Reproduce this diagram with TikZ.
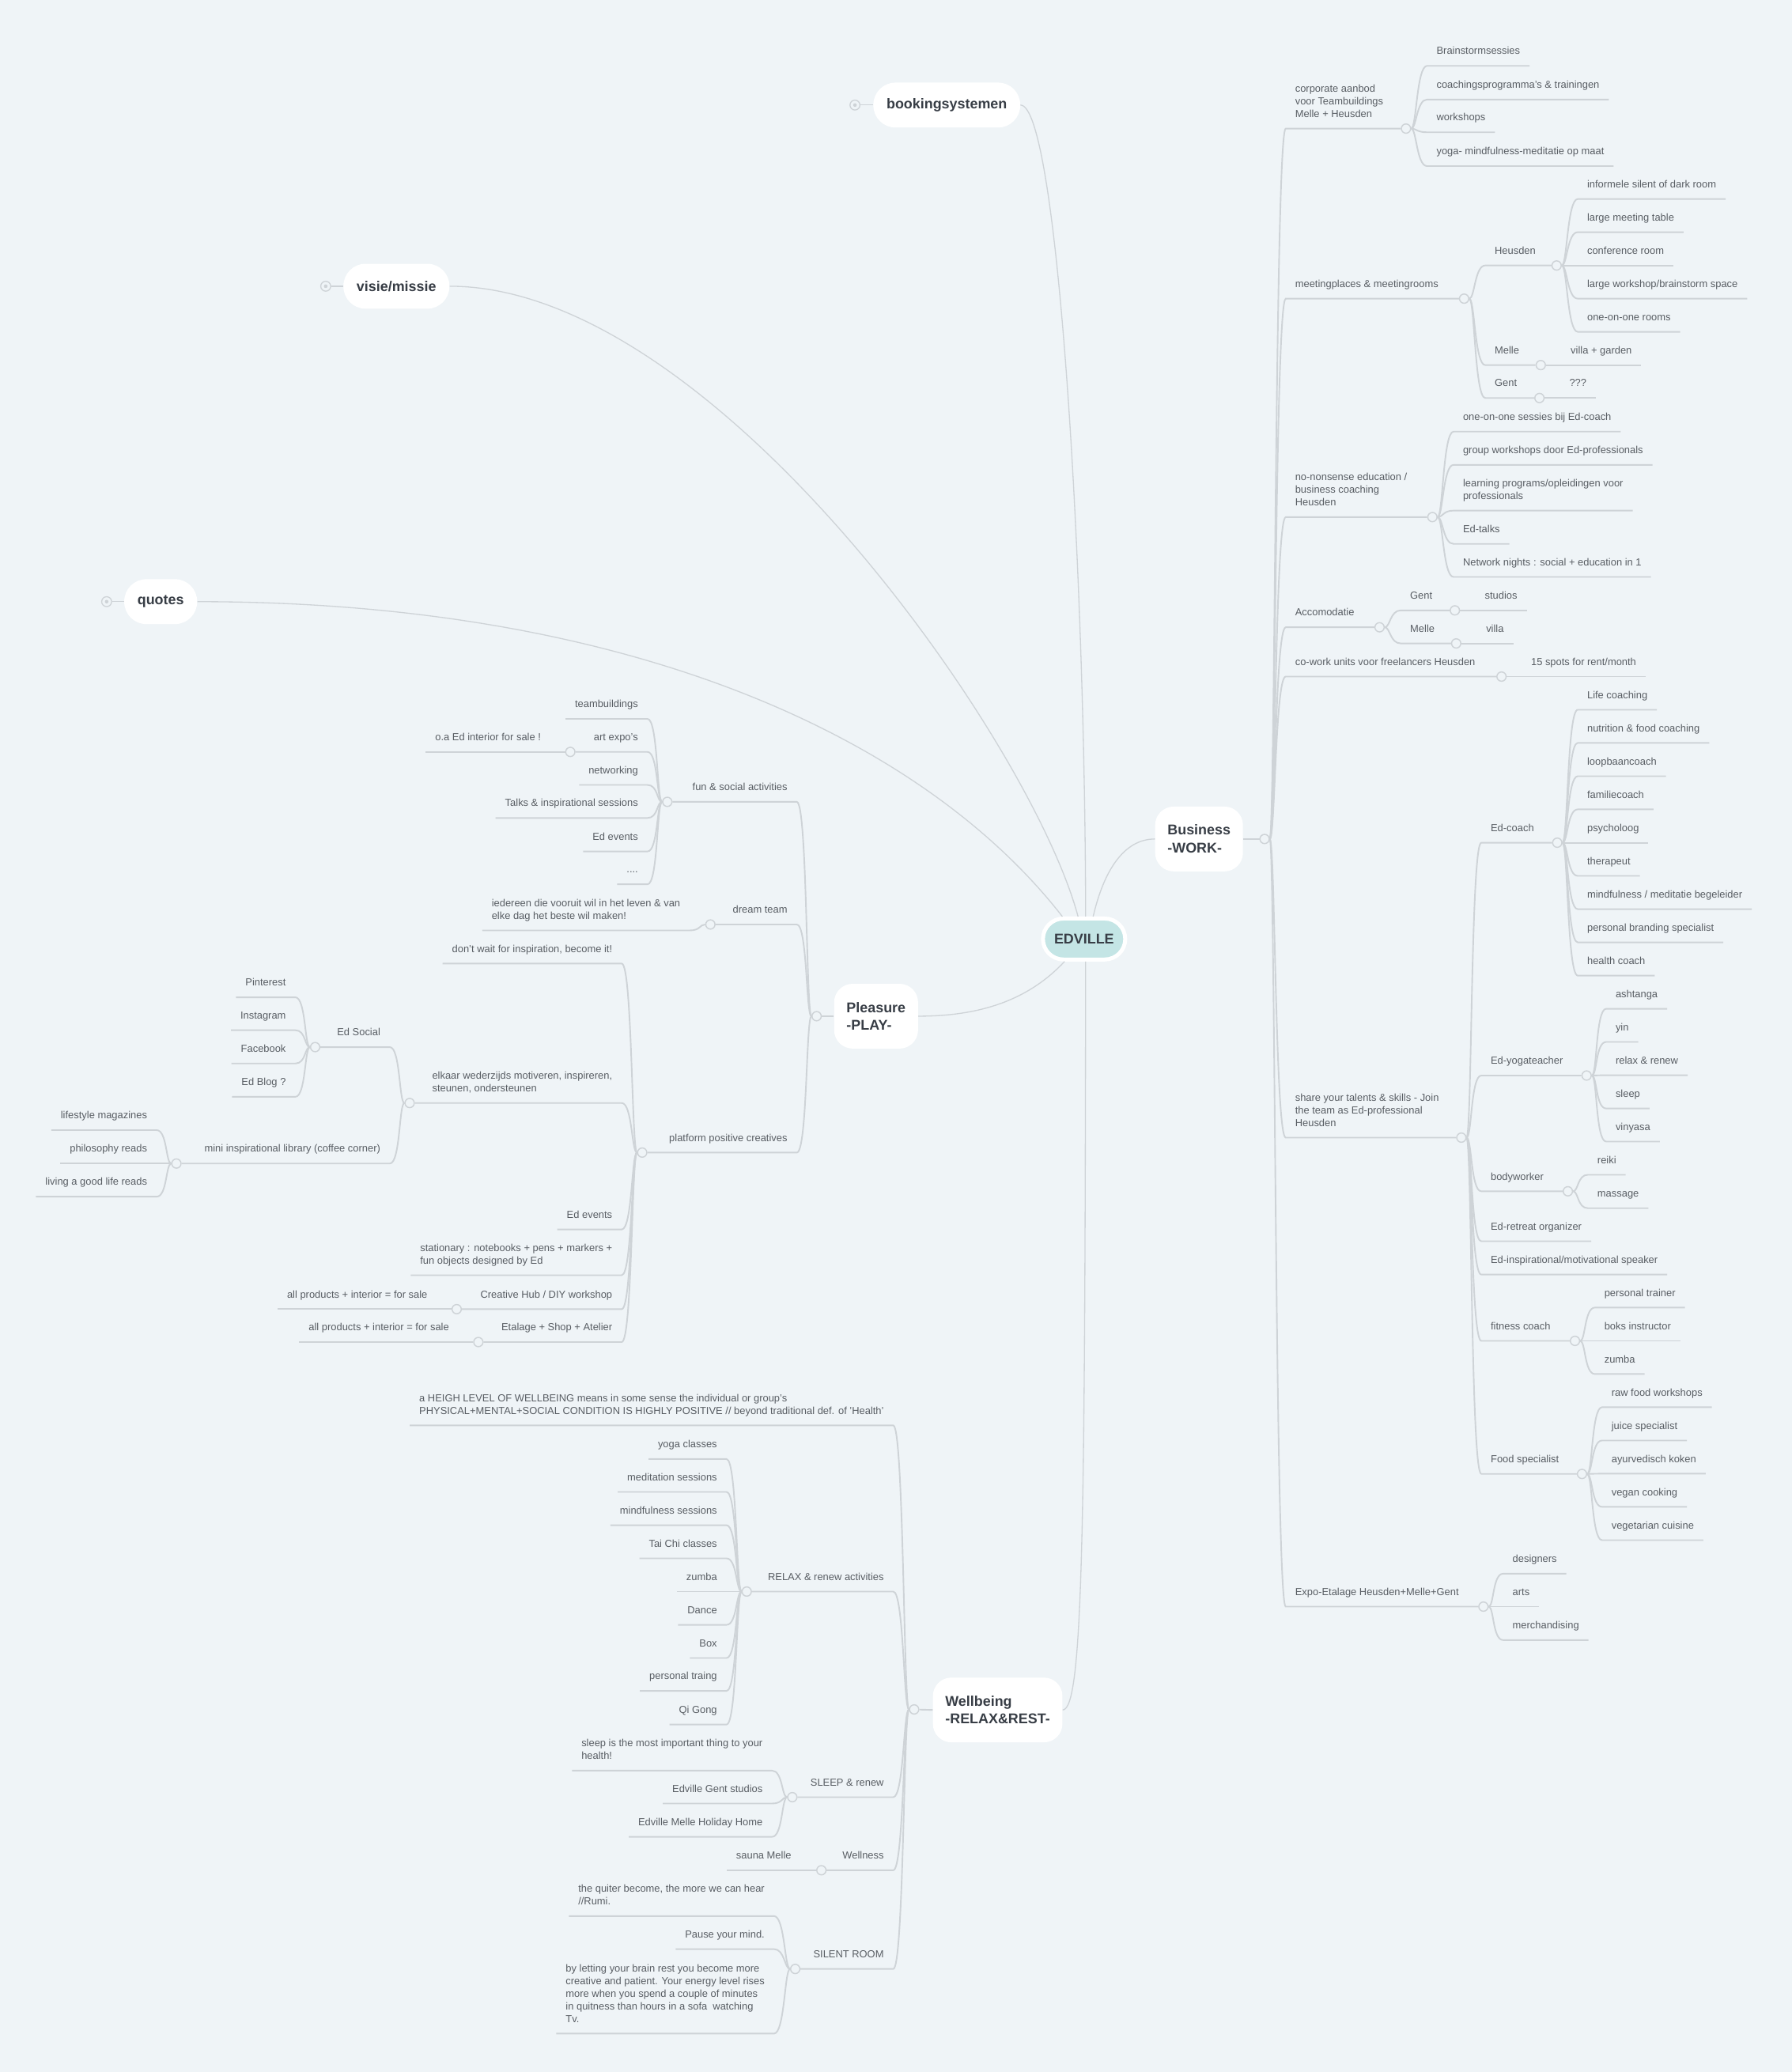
\documentclass[tikz,border=0pt]{standalone}
\usepackage{fontspec}
\setmainfont{Liberation Sans}
\definecolor{bg}{RGB}{239,244,247}
\definecolor{edge}{RGB}{206,211,215}
\definecolor{leaftxt}{RGB}{88,93,99}
\definecolor{headtxt}{RGB}{55,61,69}
\definecolor{rootfill}{RGB}{196,229,229}
\begin{document}
\begin{tikzpicture}[x=0.4mm,y=-0.4mm,
  link/.style={draw=edge,line width=1.3pt},
  mainlink/.style={draw=edge,line width=0.9pt},
  rleaf/.style={anchor=south west,inner xsep=2.8mm,inner ysep=0pt,text depth=3.36mm,align=left,text=leaftxt,font=\fontsize{8.8}{10.9}\selectfont},
  lleaf/.style={rleaf,anchor=south east},
  jdot/.style={circle,draw=edge,line width=1pt,fill=bg,minimum size=2.8mm,inner sep=0pt},
  topic/.style={fill=white,rounded corners=6.7mm,minimum height=13.6mm,inner xsep=4mm,text=headtxt,font=\fontsize{12.2}{15.5}\selectfont\bfseries},
  branchbox/.style={fill=white,rounded corners=5.6mm,minimum height=19.6mm,inner xsep=3.76mm,align=left,text=headtxt,font=\fontsize{12.2}{15.5}\selectfont\bfseries},
  rootbox/.style={fill=rootfill,draw=white,line width=1.2mm,rounded corners=6.2mm,minimum height=12.4mm,inner xsep=3.4mm,text=headtxt,font=\fontsize{12.2}{15.5}\selectfont\bfseries},
  topicmark/.style={circle,draw=edge,line width=0.9pt,fill=bg,minimum size=3mm,inner sep=0pt,path picture={\fill[edge] (path picture bounding box.center) circle (0.55mm);}}]
\path[use as bounding box,fill=bg] (0,0) rectangle (1356,1568);
\node[rootbox] (root) at (820.4,710.6) {EDVILLE};
\node[topic] (book) at (716.5,79.5) {bookingsystemen};
\node[topic] (visie) at (300,216.6) {visie/missie};
\node[topic] (quotes) at (121.6,455.3) {quotes};
\node[topicmark] (bookm) at (647,79.5) {};
\node[topicmark] (visiem) at (246.5,216.6) {};
\node[topicmark] (quotesm) at (80.7,455.3) {};
\draw[mainlink] (bookm) -- (book);
\draw[mainlink] (visiem) -- (visie);
\draw[mainlink] (quotesm) -- (quotes);
\node[branchbox] (work) at (907.4,634.9) {Business\\-WORK-};
\node[branchbox] (play) at (663,769) {Pleasure\\-PLAY-};
\node[branchbox] (well) at (755,1294) {Wellbeing\\-RELAX\&REST-};
\draw[mainlink] (quotes.east) .. controls (480,455.3) and (700,560) .. (root.134);
\draw[mainlink] (visie.east) .. controls (540,216.6) and (780,560) .. (root.105);
\draw[mainlink] (book.east) .. controls (800,79.5) and (821,420) .. (root.86);
\draw[mainlink] (root.68) .. controls (835,660) and (850,634.9) .. (work.west);
\draw[mainlink] (root.229) .. controls (780,755) and (745,769) .. (play.east);
\draw[mainlink] (root.274) .. controls (821,1150) and (820,1294) .. (well.east);
\node[jdot] (jw) at (957,634.9) {};
\draw[link] (work.east) -- (jw);
\node[rleaf] (corp) at (973,97.3) {corporate aanbod\\voor Teambuildings\\Melle + Heusden};
\node[jdot] (jcorp) at (1064,97.3) {};
\draw[link] (jw) .. controls +(8,0) and +(-8,0) .. (corp.south west) -- (jcorp);
\node[rleaf] (brain) at (1080,49.8) {Brainstormsessies};
\node[rleaf] (coach) at (1080,75.3) {coachingsprogramma's \& trainingen};
\node[rleaf] (wshop) at (1080,100.1) {workshops};
\node[rleaf] (yoga) at (1080,125.7) {yoga- mindfulness-meditatie op maat};
\draw[link] (jcorp) .. controls +(8,0) and +(-8,0) .. (brain.south west) -- (brain.south east);
\draw[link] (jcorp) .. controls +(8,0) and +(-8,0) .. (coach.south west) -- (coach.south east);
\draw[link] (jcorp) .. controls +(8,0) and +(-8,0) .. (wshop.south west) -- (wshop.south east);
\draw[link] (jcorp) .. controls +(8,0) and +(-8,0) .. (yoga.south west) -- (yoga.south east);
\node[rleaf] (meet) at (973,226) {meetingplaces \& meetingrooms};
\node[jdot] (jmeet) at (1108,226) {};
\draw[link] (jw) .. controls +(8,0) and +(-8,0) .. (meet.south west) -- (jmeet);
\node[rleaf] (heus) at (1124,200.9) {Heusden};
\node[jdot] (jheus) at (1178,200.9) {};
\draw[link] (jmeet) .. controls +(8,0) and +(-8,0) .. (heus.south west) -- (jheus);
\node[rleaf] (infor) at (1194,150.6) {informele silent of dark room};
\node[rleaf] (table) at (1194,175.7) {large meeting table};
\node[rleaf] (confr) at (1194,200.9) {conference room};
\node[rleaf] (space) at (1194,226) {large workshop/brainstorm space};
\node[rleaf] (oneon) at (1194,251.1) {one-on-one rooms};
\draw[link] (jheus) .. controls +(8,0) and +(-8,0) .. (infor.south west) -- (infor.south east);
\draw[link] (jheus) .. controls +(8,0) and +(-8,0) .. (table.south west) -- (table.south east);
\draw[link] (jheus) .. controls +(8,0) and +(-8,0) .. (confr.south west) -- (confr.south east);
\draw[link] (jheus) .. controls +(8,0) and +(-8,0) .. (space.south west) -- (space.south east);
\draw[link] (jheus) .. controls +(8,0) and +(-8,0) .. (oneon.south west) -- (oneon.south east);
\node[rleaf] (melle) at (1124,276.3) {Melle};
\node[jdot] (jmelle) at (1166,276.3) {};
\draw[link] (jmeet) .. controls +(8,0) and +(-8,0) .. (melle.south west) -- (jmelle);
\node[rleaf] (villa) at (1181.5,276.3) {villa + garden};
\draw[link] (jmelle) -- (villa.south west) -- (villa.south east);
\node[rleaf] (gent) at (1124,301.2) {Gent};
\node[jdot] (jgent) at (1165,301.2) {};
\draw[link] (jmeet) .. controls +(8,0) and +(-8,0) .. (gent.south west) -- (jgent);
\node[rleaf] (qqq) at (1180.5,301.2) {???};
\draw[link] (jgent) -- (qqq.south west) -- (qqq.south east);
\node[rleaf] (edu) at (973,391.3) {no-nonsense education /\\business coaching\\Heusden};
\node[jdot] (jedu) at (1084,391.3) {};
\draw[link] (jw) .. controls +(8,0) and +(-8,0) .. (edu.south west) -- (jedu);
\node[rleaf] (sess) at (1100,326.6) {one-on-one sessies bij Ed-coach};
\node[rleaf] (group) at (1100,351.8) {group workshops door Ed-professionals};
\node[rleaf] (learn) at (1100,386.4) {learning programs/opleidingen voor\\professionals};
\node[rleaf] (talks) at (1100,411.6) {Ed-talks};
\node[rleaf] (netw) at (1100,436.6) {Network nights : social + education in 1};
\draw[link] (jedu) .. controls +(8,0) and +(-8,0) .. (sess.south west) -- (sess.south east);
\draw[link] (jedu) .. controls +(8,0) and +(-8,0) .. (group.south west) -- (group.south east);
\draw[link] (jedu) .. controls +(8,0) and +(-8,0) .. (learn.south west) -- (learn.south east);
\draw[link] (jedu) .. controls +(8,0) and +(-8,0) .. (talks.south west) -- (talks.south east);
\draw[link] (jedu) .. controls +(8,0) and +(-8,0) .. (netw.south west) -- (netw.south east);
\node[rleaf] (acco) at (973,474.7) {Accomodatie};
\node[jdot] (jacco) at (1044,474.7) {};
\draw[link] (jw) .. controls +(8,0) and +(-8,0) .. (acco.south west) -- (jacco);
\node[rleaf] (agent) at (1060,461.9) {Gent};
\node[jdot] (jagent) at (1101,461.9) {};
\draw[link] (jacco) .. controls +(8,0) and +(-8,0) .. (agent.south west) -- (jagent);
\node[rleaf] (studio) at (1116.5,461.9) {studios};
\draw[link] (jagent) -- (studio.south west) -- (studio.south east);
\node[rleaf] (amelle) at (1060,486.9) {Melle};
\node[jdot] (jamelle) at (1102,486.9) {};
\draw[link] (jacco) .. controls +(8,0) and +(-8,0) .. (amelle.south west) -- (jamelle);
\node[rleaf] (avilla) at (1117.5,486.9) {villa};
\draw[link] (jamelle) -- (avilla.south west) -- (avilla.south east);
\node[rleaf] (cowork) at (973,512) {co-work units voor freelancers Heusden};
\node[jdot] (jcowork) at (1136.3,512) {};
\draw[link] (jw) .. controls +(8,0) and +(-8,0) .. (cowork.south west) -- (jcowork);
\node[rleaf] (spots) at (1151.5,512) {15 spots for rent/month};
\draw[link] (jcowork) -- (spots.south west) -- (spots.south east);
\node[rleaf] (share) at (973,860.9) {share your talents \& skills - Join\\the team as Ed-professional\\Heusden};
\node[jdot] (jshare) at (1105.9,860.9) {};
\draw[link] (jw) .. controls +(8,0) and +(-8,0) .. (share.south west) -- (jshare);
\node[rleaf] (edcoach) at (1121,637.7) {Ed-coach};
\node[jdot] (jedcoach) at (1178.5,637.7) {};
\draw[link] (jshare) .. controls +(8,0) and +(-8,0) .. (edcoach.south west) -- (jedcoach);
\node[rleaf] (life) at (1194,537.1) {Life coaching};
\node[rleaf] (nutri) at (1194,562.2) {nutrition \& food coaching};
\node[rleaf] (loop) at (1194,587.4) {loopbaancoach};
\node[rleaf] (famil) at (1194,612.5) {familiecoach};
\node[rleaf] (psych) at (1194,637.7) {psycholoog};
\node[rleaf] (thera) at (1194,662.8) {therapeut};
\node[rleaf] (mindf) at (1194,688) {mindfulness / meditatie begeleider};
\node[rleaf] (brand) at (1194,713.1) {personal branding specialist};
\node[rleaf] (health) at (1194,738.3) {health coach};
\draw[link] (jedcoach) .. controls +(8,0) and +(-8,0) .. (life.south west) -- (life.south east);
\draw[link] (jedcoach) .. controls +(8,0) and +(-8,0) .. (nutri.south west) -- (nutri.south east);
\draw[link] (jedcoach) .. controls +(8,0) and +(-8,0) .. (loop.south west) -- (loop.south east);
\draw[link] (jedcoach) .. controls +(8,0) and +(-8,0) .. (famil.south west) -- (famil.south east);
\draw[link] (jedcoach) .. controls +(8,0) and +(-8,0) .. (psych.south west) -- (psych.south east);
\draw[link] (jedcoach) .. controls +(8,0) and +(-8,0) .. (thera.south west) -- (thera.south east);
\draw[link] (jedcoach) .. controls +(8,0) and +(-8,0) .. (mindf.south west) -- (mindf.south east);
\draw[link] (jedcoach) .. controls +(8,0) and +(-8,0) .. (brand.south west) -- (brand.south east);
\draw[link] (jedcoach) .. controls +(8,0) and +(-8,0) .. (health.south west) -- (health.south east);
\node[rleaf] (edyoga) at (1121,813.9) {Ed-yogateacher};
\node[jdot] (jedyoga) at (1200.7,813.9) {};
\draw[link] (jshare) .. controls +(8,0) and +(-8,0) .. (edyoga.south west) -- (jedyoga);
\node[rleaf] (asht) at (1215.5,763.4) {ashtanga};
\node[rleaf] (yin) at (1215.5,788.5) {yin};
\node[rleaf] (relax) at (1215.5,813.7) {relax \& renew};
\node[rleaf] (sleep) at (1215.5,838.8) {sleep};
\node[rleaf] (vinya) at (1215.5,863.9) {vinyasa};
\draw[link] (jedyoga) .. controls +(8,0) and +(-8,0) .. (asht.south west) -- (asht.south east);
\draw[link] (jedyoga) .. controls +(8,0) and +(-8,0) .. (yin.south west) -- (yin.south east);
\draw[link] (jedyoga) .. controls +(8,0) and +(-8,0) .. (relax.south west) -- (relax.south east);
\draw[link] (jedyoga) .. controls +(8,0) and +(-8,0) .. (sleep.south west) -- (sleep.south east);
\draw[link] (jedyoga) .. controls +(8,0) and +(-8,0) .. (vinya.south west) -- (vinya.south east);
\node[rleaf] (body) at (1121,901.5) {bodyworker};
\node[jdot] (jbody) at (1186.5,901.5) {};
\draw[link] (jshare) .. controls +(8,0) and +(-8,0) .. (body.south west) -- (jbody);
\node[rleaf] (reiki) at (1201.7,889) {reiki};
\node[rleaf] (massa) at (1201.7,914.3) {massage};
\draw[link] (jbody) .. controls +(8,0) and +(-8,0) .. (reiki.south west) -- (reiki.south east);
\draw[link] (jbody) .. controls +(8,0) and +(-8,0) .. (massa.south west) -- (massa.south east);
\node[rleaf] (retreat) at (1121,939.3) {Ed-retreat organizer};
\draw[link] (jshare) .. controls +(8,0) and +(-8,0) .. (retreat.south west) -- (retreat.south east);
\node[rleaf] (speaker) at (1121,964.5) {Ed-inspirational/motivational speaker};
\draw[link] (jshare) .. controls +(8,0) and +(-8,0) .. (speaker.south west) -- (speaker.south east);
\node[rleaf] (fit) at (1121,1014.7) {fitness coach};
\node[jdot] (jfit) at (1191.9,1014.7) {};
\draw[link] (jshare) .. controls +(8,0) and +(-8,0) .. (fit.south west) -- (jfit);
\node[rleaf] (trainer) at (1207,989.5) {personal trainer};
\node[rleaf] (boks) at (1207,1014.7) {boks instructor};
\node[rleaf] (zumbaf) at (1207,1039.8) {zumba};
\draw[link] (jfit) .. controls +(8,0) and +(-8,0) .. (trainer.south west) -- (trainer.south east);
\draw[link] (jfit) .. controls +(8,0) and +(-8,0) .. (boks.south west) -- (boks.south east);
\draw[link] (jfit) .. controls +(8,0) and +(-8,0) .. (zumbaf.south west) -- (zumbaf.south east);
\node[rleaf] (food) at (1121,1115.4) {Food specialist};
\node[jdot] (jfood) at (1197.2,1115.4) {};
\draw[link] (jshare) .. controls +(8,0) and +(-8,0) .. (food.south west) -- (jfood);
\node[rleaf] (raw) at (1212.4,1064.9) {raw food workshops};
\node[rleaf] (juice) at (1212.4,1090.1) {juice specialist};
\node[rleaf] (ayur) at (1212.4,1115.2) {ayurvedisch koken};
\node[rleaf] (vegan) at (1212.4,1140.3) {vegan cooking};
\node[rleaf] (veget) at (1212.4,1165.5) {vegetarian cuisine};
\draw[link] (jfood) .. controls +(8,0) and +(-8,0) .. (raw.south west) -- (raw.south east);
\draw[link] (jfood) .. controls +(8,0) and +(-8,0) .. (juice.south west) -- (juice.south east);
\draw[link] (jfood) .. controls +(8,0) and +(-8,0) .. (ayur.south west) -- (ayur.south east);
\draw[link] (jfood) .. controls +(8,0) and +(-8,0) .. (vegan.south west) -- (vegan.south east);
\draw[link] (jfood) .. controls +(8,0) and +(-8,0) .. (veget.south west) -- (veget.south east);
\node[rleaf] (expo) at (973,1215.8) {Expo-Etalage Heusden+Melle+Gent};
\node[jdot] (jexpo) at (1122.6,1215.8) {};
\draw[link] (jw) .. controls +(8,0) and +(-8,0) .. (expo.south west) -- (jexpo);
\node[rleaf] (design) at (1137.5,1190.9) {designers};
\node[rleaf] (arts) at (1137.5,1215.8) {arts};
\node[rleaf] (merch) at (1137.5,1241.1) {merchandising};
\draw[link] (jexpo) .. controls +(8,0) and +(-8,0) .. (design.south west) -- (design.south east);
\draw[link] (jexpo) .. controls +(8,0) and +(-8,0) .. (arts.south west) -- (arts.south east);
\draw[link] (jexpo) .. controls +(8,0) and +(-8,0) .. (merch.south west) -- (merch.south east);
\node[jdot] (jplay) at (618,769) {};
\draw[link] (play.west) -- (jplay);
\node[lleaf] (fun) at (603,606.8) {fun \& social activities};
\node[jdot] (jfun) at (505,606.8) {};
\draw[link] (jplay) .. controls +(-8,0) and +(8,0) .. (fun.south east) -- (jfun);
\node[lleaf] (teamb) at (490,544) {teambuildings};
\node[lleaf] (artexpo) at (490,569) {art expo's};
\node[lleaf] (netwk) at (490,594) {networking};
\node[lleaf] (talkss) at (490,619) {Talks \& inspirational sessions};
\node[lleaf] (edevf) at (490,644.3) {Ed events};
\node[lleaf] (dots) at (490,669.2) {....};
\node[jdot] (jartexpo) at (431.6,569) {};
\draw[link] (jfun) .. controls +(-8,0) and +(8,0) .. (teamb.south east) -- (teamb.south west);
\draw[link] (jfun) .. controls +(-8,0) and +(8,0) .. (artexpo.south east) -- (jartexpo);
\draw[link] (jfun) .. controls +(-8,0) and +(8,0) .. (netwk.south east) -- (netwk.south west);
\draw[link] (jfun) .. controls +(-8,0) and +(8,0) .. (talkss.south east) -- (talkss.south west);
\draw[link] (jfun) .. controls +(-8,0) and +(8,0) .. (edevf.south east) -- (edevf.south west);
\draw[link] (jfun) .. controls +(-8,0) and +(8,0) .. (dots.south east) -- (dots.south west);
\node[lleaf] (forsale) at (416.5,569) {o.a Ed interior for sale !};
\draw[link] (jartexpo) -- (forsale.south east) -- (forsale.south west);
\node[lleaf] (dream) at (603,699.6) {dream team};
\node[jdot] (jdream) at (537.6,699.6) {};
\draw[link] (jplay) .. controls +(-8,0) and +(8,0) .. (dream.south east) -- (jdream);
\node[lleaf] (iedereen) at (522,704.1) {iedereen die vooruit wil in het leven \& van\\elke dag het beste wil maken!};
\draw[link] (jdream) .. controls +(-8,0) and +(8,0) .. (iedereen.south east) -- (iedereen.south west);
\node[lleaf] (platf) at (603,872.2) {platform positive creatives};
\node[jdot] (jplatf) at (486,872.2) {};
\draw[link] (jplay) .. controls +(-8,0) and +(8,0) .. (platf.south east) -- (jplatf);
\node[lleaf] (dontwait) at (470.5,729.2) {don't wait for inspiration, become it!};
\draw[link] (jplatf) .. controls +(-8,0) and +(8,0) .. (dontwait.south east) -- (dontwait.south west);
\node[lleaf] (elkaar) at (470.5,834.7) {elkaar wederzijds motiveren, inspireren,\\steunen, ondersteunen};
\node[jdot] (jelkaar) at (310,834.7) {};
\draw[link] (jplatf) .. controls +(-8,0) and +(8,0) .. (elkaar.south east) -- (jelkaar);
\node[lleaf] (edsoc) at (295,792.4) {Ed Social};
\node[jdot] (jedsoc) at (238.5,792.4) {};
\draw[link] (jelkaar) .. controls +(-8,0) and +(8,0) .. (edsoc.south east) -- (jedsoc);
\node[lleaf] (pint) at (223.5,754.7) {Pinterest};
\node[lleaf] (insta) at (223.5,779.6) {Instagram};
\node[lleaf] (faceb) at (223.5,804.8) {Facebook};
\node[lleaf] (blog) at (223.5,830) {Ed Blog ?};
\draw[link] (jedsoc) .. controls +(-8,0) and +(8,0) .. (pint.south east) -- (pint.south west);
\draw[link] (jedsoc) .. controls +(-8,0) and +(8,0) .. (insta.south east) -- (insta.south west);
\draw[link] (jedsoc) .. controls +(-8,0) and +(8,0) .. (faceb.south east) -- (faceb.south west);
\draw[link] (jedsoc) .. controls +(-8,0) and +(8,0) .. (blog.south east) -- (blog.south west);
\node[lleaf] (minilib) at (295,880.5) {mini inspirational library (coffee corner)};
\node[jdot] (jminilib) at (133.5,880.5) {};
\draw[link] (jelkaar) .. controls +(-8,0) and +(8,0) .. (minilib.south east) -- (jminilib);
\node[lleaf] (lifest) at (118.5,855.2) {lifestyle magazines};
\node[lleaf] (philo) at (118.5,880.5) {philosophy reads};
\node[lleaf] (living) at (118.5,905.6) {living a good life reads};
\draw[link] (jminilib) .. controls +(-8,0) and +(8,0) .. (lifest.south east) -- (lifest.south west);
\draw[link] (jminilib) .. controls +(-8,0) and +(8,0) .. (philo.south east) -- (philo.south west);
\draw[link] (jminilib) .. controls +(-8,0) and +(8,0) .. (living.south east) -- (living.south west);
\node[lleaf] (edevp) at (470.5,930.4) {Ed events};
\draw[link] (jplatf) .. controls +(-8,0) and +(8,0) .. (edevp.south east) -- (edevp.south west);
\node[lleaf] (station) at (470.5,965) {stationary : notebooks + pens + markers +\\fun objects designed by Ed};
\draw[link] (jplatf) .. controls +(-8,0) and +(8,0) .. (station.south east) -- (station.south west);
\node[lleaf] (hub) at (470.5,990.7) {Creative Hub / DIY workshop};
\node[jdot] (jhub) at (345.6,990.7) {};
\draw[link] (jplatf) .. controls +(-8,0) and +(8,0) .. (hub.south east) -- (jhub);
\node[lleaf] (sale1) at (330.6,990.7) {all products + interior = for sale};
\draw[link] (jhub) -- (sale1.south east) -- (sale1.south west);
\node[lleaf] (etal) at (470.5,1015.6) {Etalage + Shop + Atelier};
\node[jdot] (jetal) at (362,1015.6) {};
\draw[link] (jplatf) .. controls +(-8,0) and +(8,0) .. (etal.south east) -- (jetal);
\node[lleaf] (sale2) at (347,1015.6) {all products + interior = for sale};
\draw[link] (jetal) -- (sale2.south east) -- (sale2.south west);
\node[jdot] (jwell) at (691.8,1293.6) {};
\draw[link] (well.west) -- (jwell);
\node[lleaf] (heigh) at (676,1078.7) {a HEIGH LEVEL OF WELLBEING means in some sense the individual or group's\\PHYSICAL+MENTAL+SOCIAL CONDITION IS HIGHLY POSITIVE // beyond traditional def. of 'Health'};
\draw[link] (jwell) .. controls +(-8,0) and +(8,0) .. (heigh.south east) -- (heigh.south west);
\node[lleaf] (relaxa) at (676,1204.4) {RELAX \& renew activities};
\node[jdot] (jrelaxa) at (565.1,1204.4) {};
\draw[link] (jwell) .. controls +(-8,0) and +(8,0) .. (relaxa.south east) -- (jrelaxa);
\node[lleaf] (yogac) at (549.8,1104.1) {yoga classes};
\node[lleaf] (medit) at (549.8,1129) {meditation sessions};
\node[lleaf] (mindc) at (549.8,1154.2) {mindfulness sessions};
\node[lleaf] (taichi) at (549.8,1179.3) {Tai Chi classes};
\node[lleaf] (zumbaw) at (549.8,1204.4) {zumba};
\node[lleaf] (dance) at (549.8,1229.6) {Dance};
\node[lleaf] (box) at (549.8,1254.7) {Box};
\node[lleaf] (perst) at (549.8,1279.6) {personal traing};
\node[lleaf] (qigong) at (549.8,1305) {Qi Gong};
\draw[link] (jrelaxa) .. controls +(-8,0) and +(8,0) .. (yogac.south east) -- (yogac.south west);
\draw[link] (jrelaxa) .. controls +(-8,0) and +(8,0) .. (medit.south east) -- (medit.south west);
\draw[link] (jrelaxa) .. controls +(-8,0) and +(8,0) .. (mindc.south east) -- (mindc.south west);
\draw[link] (jrelaxa) .. controls +(-8,0) and +(8,0) .. (taichi.south east) -- (taichi.south west);
\draw[link] (jrelaxa) .. controls +(-8,0) and +(8,0) .. (zumbaw.south east) -- (zumbaw.south west);
\draw[link] (jrelaxa) .. controls +(-8,0) and +(8,0) .. (dance.south east) -- (dance.south west);
\draw[link] (jrelaxa) .. controls +(-8,0) and +(8,0) .. (box.south east) -- (box.south west);
\draw[link] (jrelaxa) .. controls +(-8,0) and +(8,0) .. (perst.south east) -- (perst.south west);
\draw[link] (jrelaxa) .. controls +(-8,0) and +(8,0) .. (qigong.south east) -- (qigong.south west);
\node[lleaf] (sleepr) at (676,1360) {SLEEP \& renew};
\node[jdot] (jsleepr) at (599.6,1360) {};
\draw[link] (jwell) .. controls +(-8,0) and +(8,0) .. (sleepr.south east) -- (jsleepr);
\node[lleaf] (sleepi) at (584.3,1339.9) {sleep is the most important thing to your\\health!};
\node[lleaf] (gentst) at (584.3,1364.8) {Edville Gent studios};
\node[lleaf] (melleh) at (584.3,1390) {Edville Melle Holiday Home};
\draw[link] (jsleepr) .. controls +(-8,0) and +(8,0) .. (sleepi.south east) -- (sleepi.south west);
\draw[link] (jsleepr) .. controls +(-8,0) and +(8,0) .. (gentst.south east) -- (gentst.south west);
\draw[link] (jsleepr) .. controls +(-8,0) and +(8,0) .. (melleh.south east) -- (melleh.south west);
\node[lleaf] (wellness) at (676,1415.3) {Wellness};
\node[jdot] (jwellness) at (621.6,1415.3) {};
\draw[link] (jwell) .. controls +(-8,0) and +(8,0) .. (wellness.south east) -- (jwellness);
\node[lleaf] (sauna) at (606,1415.3) {sauna Melle};
\draw[link] (jwellness) -- (sauna.south east) -- (sauna.south west);
\node[lleaf] (silent) at (676,1490) {SILENT ROOM};
\node[jdot] (jsilent) at (601.8,1490) {};
\draw[link] (jwell) .. controls +(-8,0) and +(8,0) .. (silent.south east) -- (jsilent);
\node[lleaf] (quiter) at (585.8,1450) {the quiter become, the more we can hear\\//Rumi.};
\node[lleaf] (pause) at (585.8,1475) {Pause your mind.};
\node[lleaf] (letting) at (585.8,1538.9) {by letting your brain rest you become more\\creative and patient. Your energy level rises\\more when you spend a couple of minutes\\in quitness than hours in a sofa\ \ watching\\Tv.};
\draw[link] (jsilent) .. controls +(-8,0) and +(8,0) .. (quiter.south east) -- (quiter.south west);
\draw[link] (jsilent) .. controls +(-8,0) and +(8,0) .. (pause.south east) -- (pause.south west);
\draw[link] (jsilent) .. controls +(-8,0) and +(8,0) .. (letting.south east) -- (letting.south west);
\end{tikzpicture}
\end{document}
